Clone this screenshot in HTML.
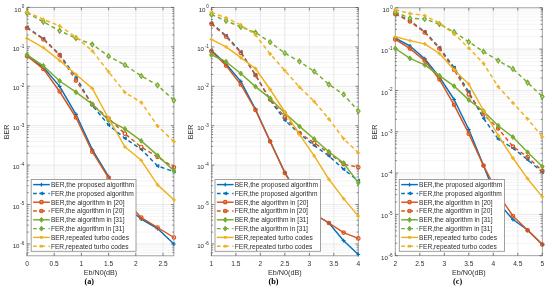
<!DOCTYPE html>
<html><head><meta charset="utf-8"><style>
html,body{margin:0;padding:0;background:#fff;}
svg{display:block;}
text{font-family:"Liberation Sans",Arial,sans-serif;fill:#2e2e2e;}
.tk{font-size:6.6px;}
.tky{font-size:6.1px;}
.sup{font-size:4.6px;}
.lb{font-size:7.2px;}
.lg{font-size:6.64px;}
.cap{font-family:"Liberation Serif","Times New Roman",serif;font-weight:bold;font-size:8.2px;fill:#000;}
</style></head><body>
<svg width="550" height="290" viewBox="0 0 550 290">
<rect width="550" height="290" fill="#fff"/>
<path d="M27.0 252.68H173.9M27.0 250.04H173.9M27.0 247.75H173.9M27.0 245.74H173.9M27.0 232.07H173.9M27.0 225.12H173.9M27.0 220.20H173.9M27.0 216.38H173.9M27.0 213.26H173.9M27.0 210.62H173.9M27.0 208.33H173.9M27.0 206.31H173.9M27.0 192.64H173.9M27.0 185.70H173.9M27.0 180.78H173.9M27.0 176.96H173.9M27.0 173.83H173.9M27.0 171.20H173.9M27.0 168.91H173.9M27.0 166.89H173.9M27.0 153.22H173.9M27.0 146.28H173.9M27.0 141.35H173.9M27.0 137.53H173.9M27.0 134.41H173.9M27.0 131.77H173.9M27.0 129.49H173.9M27.0 127.47H173.9M27.0 113.80H173.9M27.0 106.86H173.9M27.0 101.93H173.9M27.0 98.11H173.9M27.0 94.99H173.9M27.0 92.35H173.9M27.0 90.06H173.9M27.0 88.05H173.9M27.0 74.38H173.9M27.0 67.44H173.9M27.0 62.51H173.9M27.0 58.69H173.9M27.0 55.57H173.9M27.0 52.93H173.9M27.0 50.64H173.9M27.0 48.63H173.9M27.0 34.95H173.9M27.0 28.01H173.9M27.0 23.09H173.9M27.0 19.27H173.9M27.0 16.15H173.9M27.0 13.51H173.9M27.0 11.22H173.9M27.0 9.20H173.9" stroke="#f1f1f1" stroke-width="0.8" fill="none"/>
<path d="M27.0 243.93H173.9M27.0 204.51H173.9M27.0 165.09H173.9M27.0 125.67H173.9M27.0 86.24H173.9M27.0 46.82H173.9M54.20 7.4V255.8M81.41 7.4V255.8M108.61 7.4V255.8M135.81 7.4V255.8M163.02 7.4V255.8" stroke="#e3e3e3" stroke-width="0.8" fill="none"/>
<rect x="27.0" y="7.4" width="146.90" height="248.40" stroke="#979797" stroke-width="0.9" fill="none"/>
<path d="M27.00 255.8v-2.9M27.00 7.4v2.9M54.20 255.8v-2.9M54.20 7.4v2.9M81.41 255.8v-2.9M81.41 7.4v2.9M108.61 255.8v-2.9M108.61 7.4v2.9M135.81 255.8v-2.9M135.81 7.4v2.9M163.02 255.8v-2.9M163.02 7.4v2.9M27.0 243.93h2.9M173.9 243.93h-2.9M27.0 204.51h2.9M173.9 204.51h-2.9M27.0 165.09h2.9M173.9 165.09h-2.9M27.0 125.67h2.9M173.9 125.67h-2.9M27.0 86.24h2.9M173.9 86.24h-2.9M27.0 46.82h2.9M173.9 46.82h-2.9M27.0 7.40h2.9M173.9 7.40h-2.9M27.0 252.68h1.6M173.9 252.68h-1.6M27.0 250.04h1.6M173.9 250.04h-1.6M27.0 247.75h1.6M173.9 247.75h-1.6M27.0 245.74h1.6M173.9 245.74h-1.6M27.0 232.07h1.6M173.9 232.07h-1.6M27.0 225.12h1.6M173.9 225.12h-1.6M27.0 220.20h1.6M173.9 220.20h-1.6M27.0 216.38h1.6M173.9 216.38h-1.6M27.0 213.26h1.6M173.9 213.26h-1.6M27.0 210.62h1.6M173.9 210.62h-1.6M27.0 208.33h1.6M173.9 208.33h-1.6M27.0 206.31h1.6M173.9 206.31h-1.6M27.0 192.64h1.6M173.9 192.64h-1.6M27.0 185.70h1.6M173.9 185.70h-1.6M27.0 180.78h1.6M173.9 180.78h-1.6M27.0 176.96h1.6M173.9 176.96h-1.6M27.0 173.83h1.6M173.9 173.83h-1.6M27.0 171.20h1.6M173.9 171.20h-1.6M27.0 168.91h1.6M173.9 168.91h-1.6M27.0 166.89h1.6M173.9 166.89h-1.6M27.0 153.22h1.6M173.9 153.22h-1.6M27.0 146.28h1.6M173.9 146.28h-1.6M27.0 141.35h1.6M173.9 141.35h-1.6M27.0 137.53h1.6M173.9 137.53h-1.6M27.0 134.41h1.6M173.9 134.41h-1.6M27.0 131.77h1.6M173.9 131.77h-1.6M27.0 129.49h1.6M173.9 129.49h-1.6M27.0 127.47h1.6M173.9 127.47h-1.6M27.0 113.80h1.6M173.9 113.80h-1.6M27.0 106.86h1.6M173.9 106.86h-1.6M27.0 101.93h1.6M173.9 101.93h-1.6M27.0 98.11h1.6M173.9 98.11h-1.6M27.0 94.99h1.6M173.9 94.99h-1.6M27.0 92.35h1.6M173.9 92.35h-1.6M27.0 90.06h1.6M173.9 90.06h-1.6M27.0 88.05h1.6M173.9 88.05h-1.6M27.0 74.38h1.6M173.9 74.38h-1.6M27.0 67.44h1.6M173.9 67.44h-1.6M27.0 62.51h1.6M173.9 62.51h-1.6M27.0 58.69h1.6M173.9 58.69h-1.6M27.0 55.57h1.6M173.9 55.57h-1.6M27.0 52.93h1.6M173.9 52.93h-1.6M27.0 50.64h1.6M173.9 50.64h-1.6M27.0 48.63h1.6M173.9 48.63h-1.6M27.0 34.95h1.6M173.9 34.95h-1.6M27.0 28.01h1.6M173.9 28.01h-1.6M27.0 23.09h1.6M173.9 23.09h-1.6M27.0 19.27h1.6M173.9 19.27h-1.6M27.0 16.15h1.6M173.9 16.15h-1.6M27.0 13.51h1.6M173.9 13.51h-1.6M27.0 11.22h1.6M173.9 11.22h-1.6M27.0 9.20h1.6M173.9 9.20h-1.6" stroke="#555" stroke-width="0.7" fill="none"/>
<g>
<polyline points="27.00,54.90 43.32,67.30 59.64,86.40 75.97,114.30 92.29,149.60 108.61,176.60 124.93,206.00 141.26,219.00 157.58,228.50 173.90,244.00" stroke="#0072BD" stroke-width="1.45" fill="none" stroke-linejoin="round"/>
<path d="M25.10 54.90H28.90M27.00 53.00V56.80" stroke="#0072BD" stroke-width="1.2" fill="none"/>
<path d="M41.42 67.30H45.22M43.32 65.40V69.20" stroke="#0072BD" stroke-width="1.2" fill="none"/>
<path d="M57.74 86.40H61.54M59.64 84.50V88.30" stroke="#0072BD" stroke-width="1.2" fill="none"/>
<path d="M74.07 114.30H77.87M75.97 112.40V116.20" stroke="#0072BD" stroke-width="1.2" fill="none"/>
<path d="M90.39 149.60H94.19M92.29 147.70V151.50" stroke="#0072BD" stroke-width="1.2" fill="none"/>
<path d="M106.71 176.60H110.51M108.61 174.70V178.50" stroke="#0072BD" stroke-width="1.2" fill="none"/>
<path d="M123.03 206.00H126.83M124.93 204.10V207.90" stroke="#0072BD" stroke-width="1.2" fill="none"/>
<path d="M139.36 219.00H143.16M141.26 217.10V220.90" stroke="#0072BD" stroke-width="1.2" fill="none"/>
<path d="M155.68 228.50H159.48M157.58 226.60V230.40" stroke="#0072BD" stroke-width="1.2" fill="none"/>
<path d="M172.00 244.00H175.80M173.90 242.10V245.90" stroke="#0072BD" stroke-width="1.2" fill="none"/>
<polyline points="27.00,27.30 43.32,38.60 59.64,54.50 75.97,77.00 92.29,105.50 108.61,125.00 124.93,138.30 141.26,149.30 157.58,166.00 173.90,171.60" stroke="#0072BD" stroke-width="1.45" fill="none" stroke-linejoin="round" stroke-dasharray="4 3"/>
<path d="M25.50 27.30L28.35 25.80L28.35 28.80Z" stroke="#0072BD" stroke-width="0.9" fill="#0072BD"/>
<path d="M41.82 38.60L44.67 37.10L44.67 40.10Z" stroke="#0072BD" stroke-width="0.9" fill="#0072BD"/>
<path d="M58.14 54.50L60.99 53.00L60.99 56.00Z" stroke="#0072BD" stroke-width="0.9" fill="#0072BD"/>
<path d="M74.47 77.00L77.32 75.50L77.32 78.50Z" stroke="#0072BD" stroke-width="0.9" fill="#0072BD"/>
<path d="M90.79 105.50L93.64 104.00L93.64 107.00Z" stroke="#0072BD" stroke-width="0.9" fill="#0072BD"/>
<path d="M107.11 125.00L109.96 123.50L109.96 126.50Z" stroke="#0072BD" stroke-width="0.9" fill="#0072BD"/>
<path d="M123.43 138.30L126.28 136.80L126.28 139.80Z" stroke="#0072BD" stroke-width="0.9" fill="#0072BD"/>
<path d="M139.76 149.30L142.61 147.80L142.61 150.80Z" stroke="#0072BD" stroke-width="0.9" fill="#0072BD"/>
<path d="M156.08 166.00L158.93 164.50L158.93 167.50Z" stroke="#0072BD" stroke-width="0.9" fill="#0072BD"/>
<path d="M172.40 171.60L175.25 170.10L175.25 173.10Z" stroke="#0072BD" stroke-width="0.9" fill="#0072BD"/>
<polyline points="27.00,56.00 43.32,68.90 59.64,91.50 75.97,117.50 92.29,151.70 108.61,177.90 124.93,199.40 141.26,217.70 157.58,227.50 173.90,237.50" stroke="#D95319" stroke-width="1.45" fill="none" stroke-linejoin="round"/>
<circle cx="27.00" cy="56.00" r="1.75" stroke="#D95319" stroke-width="1.2" fill="none"/>
<circle cx="43.32" cy="68.90" r="1.75" stroke="#D95319" stroke-width="1.2" fill="none"/>
<circle cx="59.64" cy="91.50" r="1.75" stroke="#D95319" stroke-width="1.2" fill="none"/>
<circle cx="75.97" cy="117.50" r="1.75" stroke="#D95319" stroke-width="1.2" fill="none"/>
<circle cx="92.29" cy="151.70" r="1.75" stroke="#D95319" stroke-width="1.2" fill="none"/>
<circle cx="108.61" cy="177.90" r="1.75" stroke="#D95319" stroke-width="1.2" fill="none"/>
<circle cx="124.93" cy="199.40" r="1.75" stroke="#D95319" stroke-width="1.2" fill="none"/>
<circle cx="141.26" cy="217.70" r="1.75" stroke="#D95319" stroke-width="1.2" fill="none"/>
<circle cx="157.58" cy="227.50" r="1.75" stroke="#D95319" stroke-width="1.2" fill="none"/>
<circle cx="173.90" cy="237.50" r="1.75" stroke="#D95319" stroke-width="1.2" fill="none"/>
<polyline points="27.00,28.00 43.32,39.30 59.64,55.20 75.97,80.60 92.29,104.50 108.61,118.50 124.93,133.70 141.26,147.00 157.58,157.00 173.90,167.30" stroke="#D95319" stroke-width="1.45" fill="none" stroke-linejoin="round" stroke-dasharray="4 3"/>
<circle cx="27.00" cy="28.00" r="1.75" stroke="#D95319" stroke-width="1.2" fill="none"/>
<circle cx="43.32" cy="39.30" r="1.75" stroke="#D95319" stroke-width="1.2" fill="none"/>
<circle cx="59.64" cy="55.20" r="1.75" stroke="#D95319" stroke-width="1.2" fill="none"/>
<circle cx="75.97" cy="80.60" r="1.75" stroke="#D95319" stroke-width="1.2" fill="none"/>
<circle cx="92.29" cy="104.50" r="1.75" stroke="#D95319" stroke-width="1.2" fill="none"/>
<circle cx="108.61" cy="118.50" r="1.75" stroke="#D95319" stroke-width="1.2" fill="none"/>
<circle cx="124.93" cy="133.70" r="1.75" stroke="#D95319" stroke-width="1.2" fill="none"/>
<circle cx="141.26" cy="147.00" r="1.75" stroke="#D95319" stroke-width="1.2" fill="none"/>
<circle cx="157.58" cy="157.00" r="1.75" stroke="#D95319" stroke-width="1.2" fill="none"/>
<circle cx="173.90" cy="167.30" r="1.75" stroke="#D95319" stroke-width="1.2" fill="none"/>
<polyline points="27.00,54.90 43.32,65.80 59.64,81.00 75.97,92.20 92.29,104.20 108.61,120.30 124.93,128.90 141.26,140.90 157.58,155.40 173.90,170.80" stroke="#77AC30" stroke-width="1.45" fill="none" stroke-linejoin="round"/>
<path d="M27.00 52.45L28.84 54.90L27.00 57.35L25.16 54.90Z" stroke="#77AC30" stroke-width="1" fill="#77AC30"/>
<path d="M43.32 63.35L45.16 65.80L43.32 68.25L41.48 65.80Z" stroke="#77AC30" stroke-width="1" fill="#77AC30"/>
<path d="M59.64 78.55L61.48 81.00L59.64 83.45L57.81 81.00Z" stroke="#77AC30" stroke-width="1" fill="#77AC30"/>
<path d="M75.97 89.75L77.80 92.20L75.97 94.65L74.13 92.20Z" stroke="#77AC30" stroke-width="1" fill="#77AC30"/>
<path d="M92.29 101.75L94.13 104.20L92.29 106.65L90.45 104.20Z" stroke="#77AC30" stroke-width="1" fill="#77AC30"/>
<path d="M108.61 117.85L110.45 120.30L108.61 122.75L106.77 120.30Z" stroke="#77AC30" stroke-width="1" fill="#77AC30"/>
<path d="M124.93 126.45L126.77 128.90L124.93 131.35L123.10 128.90Z" stroke="#77AC30" stroke-width="1" fill="#77AC30"/>
<path d="M141.26 138.45L143.09 140.90L141.26 143.35L139.42 140.90Z" stroke="#77AC30" stroke-width="1" fill="#77AC30"/>
<path d="M157.58 152.95L159.42 155.40L157.58 157.85L155.74 155.40Z" stroke="#77AC30" stroke-width="1" fill="#77AC30"/>
<path d="M173.90 168.35L175.74 170.80L173.90 173.25L172.06 170.80Z" stroke="#77AC30" stroke-width="1" fill="#77AC30"/>
<polyline points="27.00,12.80 43.32,21.80 59.64,30.80 75.97,38.20 92.29,44.40 108.61,56.20 124.93,65.00 141.26,76.00 157.58,85.30 173.90,100.30" stroke="#77AC30" stroke-width="1.45" fill="none" stroke-linejoin="round" stroke-dasharray="4 3"/>
<path d="M27.00 10.45L28.76 12.80L27.00 15.15L25.24 12.80Z" stroke="#77AC30" stroke-width="1.2" fill="#b9d699"/>
<path d="M43.32 19.45L45.08 21.80L43.32 24.15L41.56 21.80Z" stroke="#77AC30" stroke-width="1.2" fill="#b9d699"/>
<path d="M59.64 28.45L61.41 30.80L59.64 33.15L57.88 30.80Z" stroke="#77AC30" stroke-width="1.2" fill="#b9d699"/>
<path d="M75.97 35.85L77.73 38.20L75.97 40.55L74.20 38.20Z" stroke="#77AC30" stroke-width="1.2" fill="#b9d699"/>
<path d="M92.29 42.05L94.05 44.40L92.29 46.75L90.53 44.40Z" stroke="#77AC30" stroke-width="1.2" fill="#b9d699"/>
<path d="M108.61 53.85L110.37 56.20L108.61 58.55L106.85 56.20Z" stroke="#77AC30" stroke-width="1.2" fill="#b9d699"/>
<path d="M124.93 62.65L126.70 65.00L124.93 67.35L123.17 65.00Z" stroke="#77AC30" stroke-width="1.2" fill="#b9d699"/>
<path d="M141.26 73.65L143.02 76.00L141.26 78.35L139.49 76.00Z" stroke="#77AC30" stroke-width="1.2" fill="#b9d699"/>
<path d="M157.58 82.95L159.34 85.30L157.58 87.65L155.82 85.30Z" stroke="#77AC30" stroke-width="1.2" fill="#b9d699"/>
<path d="M173.90 97.95L175.66 100.30L173.90 102.65L172.14 100.30Z" stroke="#77AC30" stroke-width="1.2" fill="#b9d699"/>
<polyline points="27.00,38.30 43.32,47.60 59.64,60.50 75.97,74.50 92.29,88.40 108.61,118.50 124.93,146.80 141.26,160.30 157.58,184.90 173.90,199.80" stroke="#EDB120" stroke-width="1.45" fill="none" stroke-linejoin="round"/>
<path d="M25.10 38.30H28.90M27.00 36.40V40.20" stroke="#EDB120" stroke-width="1.3" fill="none"/>
<path d="M41.42 47.60H45.22M43.32 45.70V49.50" stroke="#EDB120" stroke-width="1.3" fill="none"/>
<path d="M57.74 60.50H61.54M59.64 58.60V62.40" stroke="#EDB120" stroke-width="1.3" fill="none"/>
<path d="M74.07 74.50H77.87M75.97 72.60V76.40" stroke="#EDB120" stroke-width="1.3" fill="none"/>
<path d="M90.39 88.40H94.19M92.29 86.50V90.30" stroke="#EDB120" stroke-width="1.3" fill="none"/>
<path d="M106.71 118.50H110.51M108.61 116.60V120.40" stroke="#EDB120" stroke-width="1.3" fill="none"/>
<path d="M123.03 146.80H126.83M124.93 144.90V148.70" stroke="#EDB120" stroke-width="1.3" fill="none"/>
<path d="M139.36 160.30H143.16M141.26 158.40V162.20" stroke="#EDB120" stroke-width="1.3" fill="none"/>
<path d="M155.68 184.90H159.48M157.58 183.00V186.80" stroke="#EDB120" stroke-width="1.3" fill="none"/>
<path d="M172.00 199.80H175.80M173.90 197.90V201.70" stroke="#EDB120" stroke-width="1.3" fill="none"/>
<polyline points="27.00,12.00 43.32,19.30 59.64,26.00 75.97,37.20 92.29,50.80 108.61,71.90 124.93,92.40 141.26,102.50 157.58,126.00 173.90,141.60" stroke="#EDB120" stroke-width="1.45" fill="none" stroke-linejoin="round" stroke-dasharray="4 3"/>
<path d="M25.10 12.00H28.90M27.00 10.10V13.90" stroke="#EDB120" stroke-width="1.3" fill="none"/>
<path d="M41.42 19.30H45.22M43.32 17.40V21.20" stroke="#EDB120" stroke-width="1.3" fill="none"/>
<path d="M57.74 26.00H61.54M59.64 24.10V27.90" stroke="#EDB120" stroke-width="1.3" fill="none"/>
<path d="M74.07 37.20H77.87M75.97 35.30V39.10" stroke="#EDB120" stroke-width="1.3" fill="none"/>
<path d="M90.39 50.80H94.19M92.29 48.90V52.70" stroke="#EDB120" stroke-width="1.3" fill="none"/>
<path d="M106.71 71.90H110.51M108.61 70.00V73.80" stroke="#EDB120" stroke-width="1.3" fill="none"/>
<path d="M123.03 92.40H126.83M124.93 90.50V94.30" stroke="#EDB120" stroke-width="1.3" fill="none"/>
<path d="M139.36 102.50H143.16M141.26 100.60V104.40" stroke="#EDB120" stroke-width="1.3" fill="none"/>
<path d="M155.68 126.00H159.48M157.58 124.10V127.90" stroke="#EDB120" stroke-width="1.3" fill="none"/>
<path d="M172.00 141.60H175.80M173.90 139.70V143.50" stroke="#EDB120" stroke-width="1.3" fill="none"/>
</g>
<text x="27.00" y="265.8" text-anchor="middle" class="tk">0</text>
<text x="54.20" y="265.8" text-anchor="middle" class="tk">0.5</text>
<text x="81.41" y="265.8" text-anchor="middle" class="tk">1</text>
<text x="108.61" y="265.8" text-anchor="middle" class="tk">1.5</text>
<text x="135.81" y="265.8" text-anchor="middle" class="tk">2</text>
<text x="163.02" y="265.8" text-anchor="middle" class="tk">2.5</text>
<text x="24.40" y="248.03" text-anchor="end" class="tky">10<tspan dx="0.8" dy="-3.2" class="sup">-6</tspan></text>
<text x="24.40" y="208.61" text-anchor="end" class="tky">10<tspan dx="0.8" dy="-3.2" class="sup">-5</tspan></text>
<text x="24.40" y="169.19" text-anchor="end" class="tky">10<tspan dx="0.8" dy="-3.2" class="sup">-4</tspan></text>
<text x="24.40" y="129.77" text-anchor="end" class="tky">10<tspan dx="0.8" dy="-3.2" class="sup">-3</tspan></text>
<text x="24.40" y="90.34" text-anchor="end" class="tky">10<tspan dx="0.8" dy="-3.2" class="sup">-2</tspan></text>
<text x="24.40" y="50.92" text-anchor="end" class="tky">10<tspan dx="0.8" dy="-3.2" class="sup">-1</tspan></text>
<text x="24.40" y="11.50" text-anchor="end" class="tky">10<tspan dx="0.8" dy="-3.2" class="sup">0</tspan></text>
<text transform="translate(8.60 131.9) rotate(-90)" text-anchor="middle" class="lb">BER</text>
<text x="100.45" y="275.2" text-anchor="middle" class="lb">Eb/N0(dB)</text>
<text x="89.30" y="284.3" text-anchor="middle" class="cap">(a)</text>
<rect x="31.2" y="179.5" width="104.8" height="71.8" fill="#fff" stroke="#979797" stroke-width="0.9"/>
<path d="M33.10 184.60H49.80" stroke="#0072BD" stroke-width="1.45"/>
<path d="M39.55 184.60H43.35M41.45 182.70V186.50" stroke="#0072BD" stroke-width="1.2" fill="none"/>
<text x="50.90" y="187.00" class="lg">BER,the proposed algorithm</text>
<path d="M33.10 193.40h3.7M39.30 193.40H44.90M48.50 193.40H49.80" stroke="#0072BD" stroke-width="1.45"/>
<path d="M39.95 193.40L42.80 191.90L42.80 194.90Z" stroke="#0072BD" stroke-width="0.9" fill="#0072BD"/>
<text x="50.90" y="195.80" class="lg">FER,the proposed algorithm</text>
<path d="M33.10 202.20H49.80" stroke="#D95319" stroke-width="1.45"/>
<circle cx="41.45" cy="202.20" r="1.75" stroke="#D95319" stroke-width="1.2" fill="none"/>
<text x="50.90" y="204.60" class="lg">BER,the algorithm in [20]</text>
<path d="M33.10 211.00h3.7M39.30 211.00H44.90M48.50 211.00H49.80" stroke="#D95319" stroke-width="1.45"/>
<circle cx="41.45" cy="211.00" r="1.75" stroke="#D95319" stroke-width="1.2" fill="none"/>
<text x="50.90" y="213.40" class="lg">FER,the algorithm in [20]</text>
<path d="M33.10 219.80H49.80" stroke="#77AC30" stroke-width="1.45"/>
<path d="M41.45 217.35L43.29 219.80L41.45 222.25L39.61 219.80Z" stroke="#77AC30" stroke-width="1" fill="#77AC30"/>
<text x="50.90" y="222.20" class="lg">BER,the algorithm in [31]</text>
<path d="M33.10 228.60h3.7M39.30 228.60H44.90M48.50 228.60H49.80" stroke="#77AC30" stroke-width="1.45"/>
<path d="M41.45 226.15L43.29 228.60L41.45 231.05L39.61 228.60Z" stroke="#77AC30" stroke-width="1" fill="#77AC30"/>
<text x="50.90" y="231.00" class="lg">FER,the algorithm in [31]</text>
<path d="M33.10 237.40H49.80" stroke="#EDB120" stroke-width="1.45"/>
<rect x="40.00" y="236.10" width="2.9" height="2.6" fill="#EDB120"/>
<text x="50.90" y="239.80" class="lg">BER,repeated turbo codes</text>
<path d="M33.10 246.20h3.7M39.30 246.20H44.90M48.50 246.20H49.80" stroke="#EDB120" stroke-width="1.45"/>
<rect x="40.00" y="244.90" width="2.9" height="2.6" fill="#EDB120"/>
<text x="50.90" y="248.60" class="lg">FER,repeated turbo codes</text>
<path d="M211.4 252.68H358.3M211.4 250.04H358.3M211.4 247.76H358.3M211.4 245.74H358.3M211.4 232.08H358.3M211.4 225.14H358.3M211.4 220.21H358.3M211.4 216.39H358.3M211.4 213.27H358.3M211.4 210.64H358.3M211.4 208.35H358.3M211.4 206.33H358.3M211.4 192.67H358.3M211.4 185.73H358.3M211.4 180.81H358.3M211.4 176.99H358.3M211.4 173.87H358.3M211.4 171.23H358.3M211.4 168.94H358.3M211.4 166.93H358.3M211.4 153.26H358.3M211.4 146.32H358.3M211.4 141.40H358.3M211.4 137.58H358.3M211.4 134.46H358.3M211.4 131.82H358.3M211.4 129.54H358.3M211.4 127.52H358.3M211.4 113.86H358.3M211.4 106.92H358.3M211.4 101.99H358.3M211.4 98.17H358.3M211.4 95.05H358.3M211.4 92.42H358.3M211.4 90.13H358.3M211.4 88.12H358.3M211.4 74.45H358.3M211.4 67.51H358.3M211.4 62.59H358.3M211.4 58.77H358.3M211.4 55.65H358.3M211.4 53.01H358.3M211.4 50.73H358.3M211.4 48.71H358.3M211.4 35.04H358.3M211.4 28.10H358.3M211.4 23.18H358.3M211.4 19.36H358.3M211.4 16.24H358.3M211.4 13.60H358.3M211.4 11.32H358.3M211.4 9.30H358.3" stroke="#f1f1f1" stroke-width="0.8" fill="none"/>
<path d="M211.4 243.94H358.3M211.4 204.53H358.3M211.4 165.13H358.3M211.4 125.72H358.3M211.4 86.31H358.3M211.4 46.91H358.3M235.88 7.5V255.8M260.37 7.5V255.8M284.85 7.5V255.8M309.33 7.5V255.8M333.82 7.5V255.8" stroke="#e3e3e3" stroke-width="0.8" fill="none"/>
<rect x="211.4" y="7.5" width="146.90" height="248.30" stroke="#979797" stroke-width="0.9" fill="none"/>
<path d="M211.40 255.8v-2.9M211.40 7.5v2.9M235.88 255.8v-2.9M235.88 7.5v2.9M260.37 255.8v-2.9M260.37 7.5v2.9M284.85 255.8v-2.9M284.85 7.5v2.9M309.33 255.8v-2.9M309.33 7.5v2.9M333.82 255.8v-2.9M333.82 7.5v2.9M358.30 255.8v-2.9M358.30 7.5v2.9M211.4 243.94h2.9M358.3 243.94h-2.9M211.4 204.53h2.9M358.3 204.53h-2.9M211.4 165.13h2.9M358.3 165.13h-2.9M211.4 125.72h2.9M358.3 125.72h-2.9M211.4 86.31h2.9M358.3 86.31h-2.9M211.4 46.91h2.9M358.3 46.91h-2.9M211.4 7.50h2.9M358.3 7.50h-2.9M211.4 252.68h1.6M358.3 252.68h-1.6M211.4 250.04h1.6M358.3 250.04h-1.6M211.4 247.76h1.6M358.3 247.76h-1.6M211.4 245.74h1.6M358.3 245.74h-1.6M211.4 232.08h1.6M358.3 232.08h-1.6M211.4 225.14h1.6M358.3 225.14h-1.6M211.4 220.21h1.6M358.3 220.21h-1.6M211.4 216.39h1.6M358.3 216.39h-1.6M211.4 213.27h1.6M358.3 213.27h-1.6M211.4 210.64h1.6M358.3 210.64h-1.6M211.4 208.35h1.6M358.3 208.35h-1.6M211.4 206.33h1.6M358.3 206.33h-1.6M211.4 192.67h1.6M358.3 192.67h-1.6M211.4 185.73h1.6M358.3 185.73h-1.6M211.4 180.81h1.6M358.3 180.81h-1.6M211.4 176.99h1.6M358.3 176.99h-1.6M211.4 173.87h1.6M358.3 173.87h-1.6M211.4 171.23h1.6M358.3 171.23h-1.6M211.4 168.94h1.6M358.3 168.94h-1.6M211.4 166.93h1.6M358.3 166.93h-1.6M211.4 153.26h1.6M358.3 153.26h-1.6M211.4 146.32h1.6M358.3 146.32h-1.6M211.4 141.40h1.6M358.3 141.40h-1.6M211.4 137.58h1.6M358.3 137.58h-1.6M211.4 134.46h1.6M358.3 134.46h-1.6M211.4 131.82h1.6M358.3 131.82h-1.6M211.4 129.54h1.6M358.3 129.54h-1.6M211.4 127.52h1.6M358.3 127.52h-1.6M211.4 113.86h1.6M358.3 113.86h-1.6M211.4 106.92h1.6M358.3 106.92h-1.6M211.4 101.99h1.6M358.3 101.99h-1.6M211.4 98.17h1.6M358.3 98.17h-1.6M211.4 95.05h1.6M358.3 95.05h-1.6M211.4 92.42h1.6M358.3 92.42h-1.6M211.4 90.13h1.6M358.3 90.13h-1.6M211.4 88.12h1.6M358.3 88.12h-1.6M211.4 74.45h1.6M358.3 74.45h-1.6M211.4 67.51h1.6M358.3 67.51h-1.6M211.4 62.59h1.6M358.3 62.59h-1.6M211.4 58.77h1.6M358.3 58.77h-1.6M211.4 55.65h1.6M358.3 55.65h-1.6M211.4 53.01h1.6M358.3 53.01h-1.6M211.4 50.73h1.6M358.3 50.73h-1.6M211.4 48.71h1.6M358.3 48.71h-1.6M211.4 35.04h1.6M358.3 35.04h-1.6M211.4 28.10h1.6M358.3 28.10h-1.6M211.4 23.18h1.6M358.3 23.18h-1.6M211.4 19.36h1.6M358.3 19.36h-1.6M211.4 16.24h1.6M358.3 16.24h-1.6M211.4 13.60h1.6M358.3 13.60h-1.6M211.4 11.32h1.6M358.3 11.32h-1.6M211.4 9.30h1.6M358.3 9.30h-1.6" stroke="#555" stroke-width="0.7" fill="none"/>
<g>
<polyline points="211.40,50.60 226.09,64.00 240.78,81.40 255.47,109.20 270.16,141.20 284.85,172.50 299.54,197.00 314.23,214.00 328.92,223.00 343.61,240.70 358.30,254.50" stroke="#0072BD" stroke-width="1.45" fill="none" stroke-linejoin="round"/>
<path d="M209.50 50.60H213.30M211.40 48.70V52.50" stroke="#0072BD" stroke-width="1.2" fill="none"/>
<path d="M224.19 64.00H227.99M226.09 62.10V65.90" stroke="#0072BD" stroke-width="1.2" fill="none"/>
<path d="M238.88 81.40H242.68M240.78 79.50V83.30" stroke="#0072BD" stroke-width="1.2" fill="none"/>
<path d="M253.57 109.20H257.37M255.47 107.30V111.10" stroke="#0072BD" stroke-width="1.2" fill="none"/>
<path d="M268.26 141.20H272.06M270.16 139.30V143.10" stroke="#0072BD" stroke-width="1.2" fill="none"/>
<path d="M282.95 172.50H286.75M284.85 170.60V174.40" stroke="#0072BD" stroke-width="1.2" fill="none"/>
<path d="M297.64 197.00H301.44M299.54 195.10V198.90" stroke="#0072BD" stroke-width="1.2" fill="none"/>
<path d="M312.33 214.00H316.13M314.23 212.10V215.90" stroke="#0072BD" stroke-width="1.2" fill="none"/>
<path d="M327.02 223.00H330.82M328.92 221.10V224.90" stroke="#0072BD" stroke-width="1.2" fill="none"/>
<path d="M341.71 240.70H345.51M343.61 238.80V242.60" stroke="#0072BD" stroke-width="1.2" fill="none"/>
<path d="M356.40 254.50H360.20M358.30 252.60V256.40" stroke="#0072BD" stroke-width="1.2" fill="none"/>
<polyline points="211.40,23.10 226.09,35.70 240.78,51.80 255.47,75.00 270.16,100.00 284.85,120.20 299.54,133.70 314.23,145.50 328.92,155.90 343.61,169.30 358.30,180.70" stroke="#0072BD" stroke-width="1.45" fill="none" stroke-linejoin="round" stroke-dasharray="4 3"/>
<path d="M209.90 23.10L212.75 21.60L212.75 24.60Z" stroke="#0072BD" stroke-width="0.9" fill="#0072BD"/>
<path d="M224.59 35.70L227.44 34.20L227.44 37.20Z" stroke="#0072BD" stroke-width="0.9" fill="#0072BD"/>
<path d="M239.28 51.80L242.13 50.30L242.13 53.30Z" stroke="#0072BD" stroke-width="0.9" fill="#0072BD"/>
<path d="M253.97 75.00L256.82 73.50L256.82 76.50Z" stroke="#0072BD" stroke-width="0.9" fill="#0072BD"/>
<path d="M268.66 100.00L271.51 98.50L271.51 101.50Z" stroke="#0072BD" stroke-width="0.9" fill="#0072BD"/>
<path d="M283.35 120.20L286.20 118.70L286.20 121.70Z" stroke="#0072BD" stroke-width="0.9" fill="#0072BD"/>
<path d="M298.04 133.70L300.89 132.20L300.89 135.20Z" stroke="#0072BD" stroke-width="0.9" fill="#0072BD"/>
<path d="M312.73 145.50L315.58 144.00L315.58 147.00Z" stroke="#0072BD" stroke-width="0.9" fill="#0072BD"/>
<path d="M327.42 155.90L330.27 154.40L330.27 157.40Z" stroke="#0072BD" stroke-width="0.9" fill="#0072BD"/>
<path d="M342.11 169.30L344.96 167.80L344.96 170.80Z" stroke="#0072BD" stroke-width="0.9" fill="#0072BD"/>
<path d="M356.80 180.70L359.65 179.20L359.65 182.20Z" stroke="#0072BD" stroke-width="0.9" fill="#0072BD"/>
<polyline points="211.40,51.20 226.09,65.60 240.78,84.50 255.47,110.00 270.16,141.50 284.85,173.00 299.54,197.50 314.23,214.00 328.92,223.00 343.61,232.60 358.30,238.40" stroke="#D95319" stroke-width="1.45" fill="none" stroke-linejoin="round"/>
<circle cx="211.40" cy="51.20" r="1.75" stroke="#D95319" stroke-width="1.2" fill="none"/>
<circle cx="226.09" cy="65.60" r="1.75" stroke="#D95319" stroke-width="1.2" fill="none"/>
<circle cx="240.78" cy="84.50" r="1.75" stroke="#D95319" stroke-width="1.2" fill="none"/>
<circle cx="255.47" cy="110.00" r="1.75" stroke="#D95319" stroke-width="1.2" fill="none"/>
<circle cx="270.16" cy="141.50" r="1.75" stroke="#D95319" stroke-width="1.2" fill="none"/>
<circle cx="284.85" cy="173.00" r="1.75" stroke="#D95319" stroke-width="1.2" fill="none"/>
<circle cx="299.54" cy="197.50" r="1.75" stroke="#D95319" stroke-width="1.2" fill="none"/>
<circle cx="314.23" cy="214.00" r="1.75" stroke="#D95319" stroke-width="1.2" fill="none"/>
<circle cx="328.92" cy="223.00" r="1.75" stroke="#D95319" stroke-width="1.2" fill="none"/>
<circle cx="343.61" cy="232.60" r="1.75" stroke="#D95319" stroke-width="1.2" fill="none"/>
<circle cx="358.30" cy="238.40" r="1.75" stroke="#D95319" stroke-width="1.2" fill="none"/>
<polyline points="211.40,23.80 226.09,36.60 240.78,52.80 255.47,75.20 270.16,99.50 284.85,117.10 299.54,133.00 314.23,142.80 328.92,153.20 343.61,164.20 358.30,167.30" stroke="#D95319" stroke-width="1.45" fill="none" stroke-linejoin="round" stroke-dasharray="4 3"/>
<circle cx="211.40" cy="23.80" r="1.75" stroke="#D95319" stroke-width="1.2" fill="none"/>
<circle cx="226.09" cy="36.60" r="1.75" stroke="#D95319" stroke-width="1.2" fill="none"/>
<circle cx="240.78" cy="52.80" r="1.75" stroke="#D95319" stroke-width="1.2" fill="none"/>
<circle cx="255.47" cy="75.20" r="1.75" stroke="#D95319" stroke-width="1.2" fill="none"/>
<circle cx="270.16" cy="99.50" r="1.75" stroke="#D95319" stroke-width="1.2" fill="none"/>
<circle cx="284.85" cy="117.10" r="1.75" stroke="#D95319" stroke-width="1.2" fill="none"/>
<circle cx="299.54" cy="133.00" r="1.75" stroke="#D95319" stroke-width="1.2" fill="none"/>
<circle cx="314.23" cy="142.80" r="1.75" stroke="#D95319" stroke-width="1.2" fill="none"/>
<circle cx="328.92" cy="153.20" r="1.75" stroke="#D95319" stroke-width="1.2" fill="none"/>
<circle cx="343.61" cy="164.20" r="1.75" stroke="#D95319" stroke-width="1.2" fill="none"/>
<circle cx="358.30" cy="167.30" r="1.75" stroke="#D95319" stroke-width="1.2" fill="none"/>
<polyline points="211.40,54.90 226.09,61.70 240.78,73.50 255.47,86.60 270.16,98.40 284.85,113.00 299.54,126.40 314.23,139.00 328.92,151.70 343.61,163.10 358.30,182.80" stroke="#77AC30" stroke-width="1.45" fill="none" stroke-linejoin="round"/>
<path d="M211.40 52.45L213.24 54.90L211.40 57.35L209.56 54.90Z" stroke="#77AC30" stroke-width="1" fill="#77AC30"/>
<path d="M226.09 59.25L227.93 61.70L226.09 64.15L224.25 61.70Z" stroke="#77AC30" stroke-width="1" fill="#77AC30"/>
<path d="M240.78 71.05L242.62 73.50L240.78 75.95L238.94 73.50Z" stroke="#77AC30" stroke-width="1" fill="#77AC30"/>
<path d="M255.47 84.15L257.31 86.60L255.47 89.05L253.63 86.60Z" stroke="#77AC30" stroke-width="1" fill="#77AC30"/>
<path d="M270.16 95.95L272.00 98.40L270.16 100.85L268.32 98.40Z" stroke="#77AC30" stroke-width="1" fill="#77AC30"/>
<path d="M284.85 110.55L286.69 113.00L284.85 115.45L283.01 113.00Z" stroke="#77AC30" stroke-width="1" fill="#77AC30"/>
<path d="M299.54 123.95L301.38 126.40L299.54 128.85L297.70 126.40Z" stroke="#77AC30" stroke-width="1" fill="#77AC30"/>
<path d="M314.23 136.55L316.07 139.00L314.23 141.45L312.39 139.00Z" stroke="#77AC30" stroke-width="1" fill="#77AC30"/>
<path d="M328.92 149.25L330.76 151.70L328.92 154.15L327.08 151.70Z" stroke="#77AC30" stroke-width="1" fill="#77AC30"/>
<path d="M343.61 160.65L345.45 163.10L343.61 165.55L341.77 163.10Z" stroke="#77AC30" stroke-width="1" fill="#77AC30"/>
<path d="M358.30 180.35L360.14 182.80L358.30 185.25L356.46 182.80Z" stroke="#77AC30" stroke-width="1" fill="#77AC30"/>
<polyline points="211.40,14.50 226.09,20.80 240.78,26.90 255.47,32.50 270.16,42.20 284.85,53.20 299.54,61.40 314.23,71.50 328.92,84.50 343.61,94.50 358.30,111.10" stroke="#77AC30" stroke-width="1.45" fill="none" stroke-linejoin="round" stroke-dasharray="4 3"/>
<path d="M211.40 12.15L213.16 14.50L211.40 16.85L209.64 14.50Z" stroke="#77AC30" stroke-width="1.2" fill="#b9d699"/>
<path d="M226.09 18.45L227.85 20.80L226.09 23.15L224.33 20.80Z" stroke="#77AC30" stroke-width="1.2" fill="#b9d699"/>
<path d="M240.78 24.55L242.54 26.90L240.78 29.25L239.02 26.90Z" stroke="#77AC30" stroke-width="1.2" fill="#b9d699"/>
<path d="M255.47 30.15L257.23 32.50L255.47 34.85L253.71 32.50Z" stroke="#77AC30" stroke-width="1.2" fill="#b9d699"/>
<path d="M270.16 39.85L271.92 42.20L270.16 44.55L268.40 42.20Z" stroke="#77AC30" stroke-width="1.2" fill="#b9d699"/>
<path d="M284.85 50.85L286.61 53.20L284.85 55.55L283.09 53.20Z" stroke="#77AC30" stroke-width="1.2" fill="#b9d699"/>
<path d="M299.54 59.05L301.30 61.40L299.54 63.75L297.78 61.40Z" stroke="#77AC30" stroke-width="1.2" fill="#b9d699"/>
<path d="M314.23 69.15L315.99 71.50L314.23 73.85L312.47 71.50Z" stroke="#77AC30" stroke-width="1.2" fill="#b9d699"/>
<path d="M328.92 82.15L330.68 84.50L328.92 86.85L327.16 84.50Z" stroke="#77AC30" stroke-width="1.2" fill="#b9d699"/>
<path d="M343.61 92.15L345.37 94.50L343.61 96.85L341.85 94.50Z" stroke="#77AC30" stroke-width="1.2" fill="#b9d699"/>
<path d="M358.30 108.75L360.06 111.10L358.30 113.45L356.54 111.10Z" stroke="#77AC30" stroke-width="1.2" fill="#b9d699"/>
<polyline points="211.40,39.40 226.09,46.80 240.78,57.60 255.47,68.50 270.16,89.50 284.85,112.00 299.54,134.70 314.23,155.80 328.92,179.30 343.61,198.60 358.30,216.10" stroke="#EDB120" stroke-width="1.45" fill="none" stroke-linejoin="round"/>
<path d="M209.50 39.40H213.30M211.40 37.50V41.30" stroke="#EDB120" stroke-width="1.3" fill="none"/>
<path d="M224.19 46.80H227.99M226.09 44.90V48.70" stroke="#EDB120" stroke-width="1.3" fill="none"/>
<path d="M238.88 57.60H242.68M240.78 55.70V59.50" stroke="#EDB120" stroke-width="1.3" fill="none"/>
<path d="M253.57 68.50H257.37M255.47 66.60V70.40" stroke="#EDB120" stroke-width="1.3" fill="none"/>
<path d="M268.26 89.50H272.06M270.16 87.60V91.40" stroke="#EDB120" stroke-width="1.3" fill="none"/>
<path d="M282.95 112.00H286.75M284.85 110.10V113.90" stroke="#EDB120" stroke-width="1.3" fill="none"/>
<path d="M297.64 134.70H301.44M299.54 132.80V136.60" stroke="#EDB120" stroke-width="1.3" fill="none"/>
<path d="M312.33 155.80H316.13M314.23 153.90V157.70" stroke="#EDB120" stroke-width="1.3" fill="none"/>
<path d="M327.02 179.30H330.82M328.92 177.40V181.20" stroke="#EDB120" stroke-width="1.3" fill="none"/>
<path d="M341.71 198.60H345.51M343.61 196.70V200.50" stroke="#EDB120" stroke-width="1.3" fill="none"/>
<path d="M356.40 216.10H360.20M358.30 214.20V218.00" stroke="#EDB120" stroke-width="1.3" fill="none"/>
<polyline points="211.40,12.20 226.09,18.00 240.78,24.80 255.47,34.80 270.16,54.00 284.85,70.60 299.54,87.10 314.23,101.50 328.92,119.00 343.61,138.70 358.30,152.80" stroke="#EDB120" stroke-width="1.45" fill="none" stroke-linejoin="round" stroke-dasharray="4 3"/>
<path d="M209.50 12.20H213.30M211.40 10.30V14.10" stroke="#EDB120" stroke-width="1.3" fill="none"/>
<path d="M224.19 18.00H227.99M226.09 16.10V19.90" stroke="#EDB120" stroke-width="1.3" fill="none"/>
<path d="M238.88 24.80H242.68M240.78 22.90V26.70" stroke="#EDB120" stroke-width="1.3" fill="none"/>
<path d="M253.57 34.80H257.37M255.47 32.90V36.70" stroke="#EDB120" stroke-width="1.3" fill="none"/>
<path d="M268.26 54.00H272.06M270.16 52.10V55.90" stroke="#EDB120" stroke-width="1.3" fill="none"/>
<path d="M282.95 70.60H286.75M284.85 68.70V72.50" stroke="#EDB120" stroke-width="1.3" fill="none"/>
<path d="M297.64 87.10H301.44M299.54 85.20V89.00" stroke="#EDB120" stroke-width="1.3" fill="none"/>
<path d="M312.33 101.50H316.13M314.23 99.60V103.40" stroke="#EDB120" stroke-width="1.3" fill="none"/>
<path d="M327.02 119.00H330.82M328.92 117.10V120.90" stroke="#EDB120" stroke-width="1.3" fill="none"/>
<path d="M341.71 138.70H345.51M343.61 136.80V140.60" stroke="#EDB120" stroke-width="1.3" fill="none"/>
<path d="M356.40 152.80H360.20M358.30 150.90V154.70" stroke="#EDB120" stroke-width="1.3" fill="none"/>
</g>
<text x="211.40" y="265.8" text-anchor="middle" class="tk">1</text>
<text x="235.88" y="265.8" text-anchor="middle" class="tk">1.5</text>
<text x="260.37" y="265.8" text-anchor="middle" class="tk">2</text>
<text x="284.85" y="265.8" text-anchor="middle" class="tk">2.5</text>
<text x="309.33" y="265.8" text-anchor="middle" class="tk">3</text>
<text x="333.82" y="265.8" text-anchor="middle" class="tk">3.5</text>
<text x="358.30" y="265.8" text-anchor="middle" class="tk">4</text>
<text x="208.80" y="248.04" text-anchor="end" class="tky">10<tspan dx="0.8" dy="-3.2" class="sup">-6</tspan></text>
<text x="208.80" y="208.63" text-anchor="end" class="tky">10<tspan dx="0.8" dy="-3.2" class="sup">-5</tspan></text>
<text x="208.80" y="169.23" text-anchor="end" class="tky">10<tspan dx="0.8" dy="-3.2" class="sup">-4</tspan></text>
<text x="208.80" y="129.82" text-anchor="end" class="tky">10<tspan dx="0.8" dy="-3.2" class="sup">-3</tspan></text>
<text x="208.80" y="90.41" text-anchor="end" class="tky">10<tspan dx="0.8" dy="-3.2" class="sup">-2</tspan></text>
<text x="208.80" y="51.01" text-anchor="end" class="tky">10<tspan dx="0.8" dy="-3.2" class="sup">-1</tspan></text>
<text x="208.80" y="11.60" text-anchor="end" class="tky">10<tspan dx="0.8" dy="-3.2" class="sup">0</tspan></text>
<text transform="translate(193.00 131.9) rotate(-90)" text-anchor="middle" class="lb">BER</text>
<text x="284.85" y="275.2" text-anchor="middle" class="lb">Eb/N0(dB)</text>
<text x="273.50" y="284.3" text-anchor="middle" class="cap">(b)</text>
<rect x="215.0" y="179.5" width="105.5" height="71.8" fill="#fff" stroke="#979797" stroke-width="0.9"/>
<path d="M216.90 184.60H233.60" stroke="#0072BD" stroke-width="1.45"/>
<path d="M223.35 184.60H227.15M225.25 182.70V186.50" stroke="#0072BD" stroke-width="1.2" fill="none"/>
<text x="234.70" y="187.00" class="lg">BER,the proposed algorithm</text>
<path d="M216.90 193.40h3.7M223.10 193.40H228.70M232.30 193.40H233.60" stroke="#0072BD" stroke-width="1.45"/>
<path d="M223.75 193.40L226.60 191.90L226.60 194.90Z" stroke="#0072BD" stroke-width="0.9" fill="#0072BD"/>
<text x="234.70" y="195.80" class="lg">FER,the proposed algorithm</text>
<path d="M216.90 202.20H233.60" stroke="#D95319" stroke-width="1.45"/>
<circle cx="225.25" cy="202.20" r="1.75" stroke="#D95319" stroke-width="1.2" fill="none"/>
<text x="234.70" y="204.60" class="lg">BER,the algorithm in [20]</text>
<path d="M216.90 211.00h3.7M223.10 211.00H228.70M232.30 211.00H233.60" stroke="#D95319" stroke-width="1.45"/>
<circle cx="225.25" cy="211.00" r="1.75" stroke="#D95319" stroke-width="1.2" fill="none"/>
<text x="234.70" y="213.40" class="lg">FER,the algorithm in [20]</text>
<path d="M216.90 219.80H233.60" stroke="#77AC30" stroke-width="1.45"/>
<path d="M225.25 217.35L227.09 219.80L225.25 222.25L223.41 219.80Z" stroke="#77AC30" stroke-width="1" fill="#77AC30"/>
<text x="234.70" y="222.20" class="lg">BER,the algorithm in [31]</text>
<path d="M216.90 228.60h3.7M223.10 228.60H228.70M232.30 228.60H233.60" stroke="#77AC30" stroke-width="1.45"/>
<path d="M225.25 226.15L227.09 228.60L225.25 231.05L223.41 228.60Z" stroke="#77AC30" stroke-width="1" fill="#77AC30"/>
<text x="234.70" y="231.00" class="lg">FER,the algorithm in [31]</text>
<path d="M216.90 237.40H233.60" stroke="#EDB120" stroke-width="1.45"/>
<rect x="223.80" y="236.10" width="2.9" height="2.6" fill="#EDB120"/>
<text x="234.70" y="239.80" class="lg">BER,repeated turbo codes</text>
<path d="M216.90 246.20h3.7M223.10 246.20H228.70M232.30 246.20H233.60" stroke="#EDB120" stroke-width="1.45"/>
<rect x="223.80" y="244.90" width="2.9" height="2.6" fill="#EDB120"/>
<text x="234.70" y="248.60" class="lg">FER,repeated turbo codes</text>
<path d="M395.3 243.26H542.3M395.3 235.99H542.3M395.3 230.82H542.3M395.3 226.82H542.3M395.3 223.55H542.3M395.3 220.78H542.3M395.3 218.39H542.3M395.3 216.27H542.3M395.3 201.95H542.3M395.3 194.67H542.3M395.3 189.51H542.3M395.3 185.50H542.3M395.3 182.23H542.3M395.3 179.47H542.3M395.3 177.07H542.3M395.3 174.96H542.3M395.3 160.63H542.3M395.3 153.35H542.3M395.3 148.19H542.3M395.3 144.19H542.3M395.3 140.92H542.3M395.3 138.15H542.3M395.3 135.75H542.3M395.3 133.64H542.3M395.3 119.31H542.3M395.3 112.04H542.3M395.3 106.87H542.3M395.3 102.87H542.3M395.3 99.60H542.3M395.3 96.83H542.3M395.3 94.44H542.3M395.3 92.32H542.3M395.3 78.00H542.3M395.3 70.72H542.3M395.3 65.56H542.3M395.3 61.55H542.3M395.3 58.28H542.3M395.3 55.52H542.3M395.3 53.12H542.3M395.3 51.01H542.3M395.3 36.68H542.3M395.3 29.40H542.3M395.3 24.24H542.3M395.3 20.24H542.3M395.3 16.97H542.3M395.3 14.20H542.3M395.3 11.80H542.3M395.3 9.69H542.3" stroke="#f1f1f1" stroke-width="0.8" fill="none"/>
<path d="M395.3 214.38H542.3M395.3 173.07H542.3M395.3 131.75H542.3M395.3 90.43H542.3M395.3 49.12H542.3M419.80 7.8V255.7M444.30 7.8V255.7M468.80 7.8V255.7M493.30 7.8V255.7M517.80 7.8V255.7" stroke="#e3e3e3" stroke-width="0.8" fill="none"/>
<rect x="395.3" y="7.8" width="147.00" height="247.90" stroke="#979797" stroke-width="0.9" fill="none"/>
<path d="M395.30 255.7v-2.9M395.30 7.8v2.9M419.80 255.7v-2.9M419.80 7.8v2.9M444.30 255.7v-2.9M444.30 7.8v2.9M468.80 255.7v-2.9M468.80 7.8v2.9M493.30 255.7v-2.9M493.30 7.8v2.9M517.80 255.7v-2.9M517.80 7.8v2.9M542.30 255.7v-2.9M542.30 7.8v2.9M395.3 255.70h2.9M542.3 255.70h-2.9M395.3 214.38h2.9M542.3 214.38h-2.9M395.3 173.07h2.9M542.3 173.07h-2.9M395.3 131.75h2.9M542.3 131.75h-2.9M395.3 90.43h2.9M542.3 90.43h-2.9M395.3 49.12h2.9M542.3 49.12h-2.9M395.3 7.80h2.9M542.3 7.80h-2.9M395.3 243.26h1.6M542.3 243.26h-1.6M395.3 235.99h1.6M542.3 235.99h-1.6M395.3 230.82h1.6M542.3 230.82h-1.6M395.3 226.82h1.6M542.3 226.82h-1.6M395.3 223.55h1.6M542.3 223.55h-1.6M395.3 220.78h1.6M542.3 220.78h-1.6M395.3 218.39h1.6M542.3 218.39h-1.6M395.3 216.27h1.6M542.3 216.27h-1.6M395.3 201.95h1.6M542.3 201.95h-1.6M395.3 194.67h1.6M542.3 194.67h-1.6M395.3 189.51h1.6M542.3 189.51h-1.6M395.3 185.50h1.6M542.3 185.50h-1.6M395.3 182.23h1.6M542.3 182.23h-1.6M395.3 179.47h1.6M542.3 179.47h-1.6M395.3 177.07h1.6M542.3 177.07h-1.6M395.3 174.96h1.6M542.3 174.96h-1.6M395.3 160.63h1.6M542.3 160.63h-1.6M395.3 153.35h1.6M542.3 153.35h-1.6M395.3 148.19h1.6M542.3 148.19h-1.6M395.3 144.19h1.6M542.3 144.19h-1.6M395.3 140.92h1.6M542.3 140.92h-1.6M395.3 138.15h1.6M542.3 138.15h-1.6M395.3 135.75h1.6M542.3 135.75h-1.6M395.3 133.64h1.6M542.3 133.64h-1.6M395.3 119.31h1.6M542.3 119.31h-1.6M395.3 112.04h1.6M542.3 112.04h-1.6M395.3 106.87h1.6M542.3 106.87h-1.6M395.3 102.87h1.6M542.3 102.87h-1.6M395.3 99.60h1.6M542.3 99.60h-1.6M395.3 96.83h1.6M542.3 96.83h-1.6M395.3 94.44h1.6M542.3 94.44h-1.6M395.3 92.32h1.6M542.3 92.32h-1.6M395.3 78.00h1.6M542.3 78.00h-1.6M395.3 70.72h1.6M542.3 70.72h-1.6M395.3 65.56h1.6M542.3 65.56h-1.6M395.3 61.55h1.6M542.3 61.55h-1.6M395.3 58.28h1.6M542.3 58.28h-1.6M395.3 55.52h1.6M542.3 55.52h-1.6M395.3 53.12h1.6M542.3 53.12h-1.6M395.3 51.01h1.6M542.3 51.01h-1.6M395.3 36.68h1.6M542.3 36.68h-1.6M395.3 29.40h1.6M542.3 29.40h-1.6M395.3 24.24h1.6M542.3 24.24h-1.6M395.3 20.24h1.6M542.3 20.24h-1.6M395.3 16.97h1.6M542.3 16.97h-1.6M395.3 14.20h1.6M542.3 14.20h-1.6M395.3 11.80h1.6M542.3 11.80h-1.6M395.3 9.69h1.6M542.3 9.69h-1.6" stroke="#555" stroke-width="0.7" fill="none"/>
<g>
<polyline points="395.30,38.10 410.00,46.00 424.70,58.70 439.40,76.90 454.10,99.50 468.80,129.50 483.50,165.60 498.20,202.60 512.90,219.50 527.60,230.00 542.30,244.50" stroke="#0072BD" stroke-width="1.45" fill="none" stroke-linejoin="round"/>
<path d="M393.40 38.10H397.20M395.30 36.20V40.00" stroke="#0072BD" stroke-width="1.2" fill="none"/>
<path d="M408.10 46.00H411.90M410.00 44.10V47.90" stroke="#0072BD" stroke-width="1.2" fill="none"/>
<path d="M422.80 58.70H426.60M424.70 56.80V60.60" stroke="#0072BD" stroke-width="1.2" fill="none"/>
<path d="M437.50 76.90H441.30M439.40 75.00V78.80" stroke="#0072BD" stroke-width="1.2" fill="none"/>
<path d="M452.20 99.50H456.00M454.10 97.60V101.40" stroke="#0072BD" stroke-width="1.2" fill="none"/>
<path d="M466.90 129.50H470.70M468.80 127.60V131.40" stroke="#0072BD" stroke-width="1.2" fill="none"/>
<path d="M481.60 165.60H485.40M483.50 163.70V167.50" stroke="#0072BD" stroke-width="1.2" fill="none"/>
<path d="M496.30 202.60H500.10M498.20 200.70V204.50" stroke="#0072BD" stroke-width="1.2" fill="none"/>
<path d="M511.00 219.50H514.80M512.90 217.60V221.40" stroke="#0072BD" stroke-width="1.2" fill="none"/>
<path d="M525.70 230.00H529.50M527.60 228.10V231.90" stroke="#0072BD" stroke-width="1.2" fill="none"/>
<path d="M540.40 244.50H544.20M542.30 242.60V246.40" stroke="#0072BD" stroke-width="1.2" fill="none"/>
<polyline points="395.30,13.60 410.00,20.80 424.70,31.70 439.40,47.50 454.10,67.60 468.80,92.00 483.50,118.30 498.20,139.00 512.90,148.10 527.60,159.80 542.30,172.20" stroke="#0072BD" stroke-width="1.45" fill="none" stroke-linejoin="round" stroke-dasharray="4 3"/>
<path d="M393.80 13.60L396.65 12.10L396.65 15.10Z" stroke="#0072BD" stroke-width="0.9" fill="#0072BD"/>
<path d="M408.50 20.80L411.35 19.30L411.35 22.30Z" stroke="#0072BD" stroke-width="0.9" fill="#0072BD"/>
<path d="M423.20 31.70L426.05 30.20L426.05 33.20Z" stroke="#0072BD" stroke-width="0.9" fill="#0072BD"/>
<path d="M437.90 47.50L440.75 46.00L440.75 49.00Z" stroke="#0072BD" stroke-width="0.9" fill="#0072BD"/>
<path d="M452.60 67.60L455.45 66.10L455.45 69.10Z" stroke="#0072BD" stroke-width="0.9" fill="#0072BD"/>
<path d="M467.30 92.00L470.15 90.50L470.15 93.50Z" stroke="#0072BD" stroke-width="0.9" fill="#0072BD"/>
<path d="M482.00 118.30L484.85 116.80L484.85 119.80Z" stroke="#0072BD" stroke-width="0.9" fill="#0072BD"/>
<path d="M496.70 139.00L499.55 137.50L499.55 140.50Z" stroke="#0072BD" stroke-width="0.9" fill="#0072BD"/>
<path d="M511.40 148.10L514.25 146.60L514.25 149.60Z" stroke="#0072BD" stroke-width="0.9" fill="#0072BD"/>
<path d="M526.10 159.80L528.95 158.30L528.95 161.30Z" stroke="#0072BD" stroke-width="0.9" fill="#0072BD"/>
<path d="M540.80 172.20L543.65 170.70L543.65 173.70Z" stroke="#0072BD" stroke-width="0.9" fill="#0072BD"/>
<polyline points="395.30,39.40 410.00,48.60 424.70,60.60 439.40,79.30 454.10,104.80 468.80,133.70 483.50,165.60 498.20,194.10 512.90,216.00 527.60,230.30 542.30,244.50" stroke="#D95319" stroke-width="1.45" fill="none" stroke-linejoin="round"/>
<circle cx="395.30" cy="39.40" r="1.75" stroke="#D95319" stroke-width="1.2" fill="none"/>
<circle cx="410.00" cy="48.60" r="1.75" stroke="#D95319" stroke-width="1.2" fill="none"/>
<circle cx="424.70" cy="60.60" r="1.75" stroke="#D95319" stroke-width="1.2" fill="none"/>
<circle cx="439.40" cy="79.30" r="1.75" stroke="#D95319" stroke-width="1.2" fill="none"/>
<circle cx="454.10" cy="104.80" r="1.75" stroke="#D95319" stroke-width="1.2" fill="none"/>
<circle cx="468.80" cy="133.70" r="1.75" stroke="#D95319" stroke-width="1.2" fill="none"/>
<circle cx="483.50" cy="165.60" r="1.75" stroke="#D95319" stroke-width="1.2" fill="none"/>
<circle cx="498.20" cy="194.10" r="1.75" stroke="#D95319" stroke-width="1.2" fill="none"/>
<circle cx="512.90" cy="216.00" r="1.75" stroke="#D95319" stroke-width="1.2" fill="none"/>
<circle cx="527.60" cy="230.30" r="1.75" stroke="#D95319" stroke-width="1.2" fill="none"/>
<circle cx="542.30" cy="244.50" r="1.75" stroke="#D95319" stroke-width="1.2" fill="none"/>
<polyline points="395.30,14.10 410.00,21.40 424.70,32.40 439.40,48.50 454.10,69.70 468.80,94.40 483.50,114.50 498.20,128.50 512.90,146.60 527.60,157.00 542.30,170.90" stroke="#D95319" stroke-width="1.45" fill="none" stroke-linejoin="round" stroke-dasharray="4 3"/>
<circle cx="395.30" cy="14.10" r="1.75" stroke="#D95319" stroke-width="1.2" fill="none"/>
<circle cx="410.00" cy="21.40" r="1.75" stroke="#D95319" stroke-width="1.2" fill="none"/>
<circle cx="424.70" cy="32.40" r="1.75" stroke="#D95319" stroke-width="1.2" fill="none"/>
<circle cx="439.40" cy="48.50" r="1.75" stroke="#D95319" stroke-width="1.2" fill="none"/>
<circle cx="454.10" cy="69.70" r="1.75" stroke="#D95319" stroke-width="1.2" fill="none"/>
<circle cx="468.80" cy="94.40" r="1.75" stroke="#D95319" stroke-width="1.2" fill="none"/>
<circle cx="483.50" cy="114.50" r="1.75" stroke="#D95319" stroke-width="1.2" fill="none"/>
<circle cx="498.20" cy="128.50" r="1.75" stroke="#D95319" stroke-width="1.2" fill="none"/>
<circle cx="512.90" cy="146.60" r="1.75" stroke="#D95319" stroke-width="1.2" fill="none"/>
<circle cx="527.60" cy="157.00" r="1.75" stroke="#D95319" stroke-width="1.2" fill="none"/>
<circle cx="542.30" cy="170.90" r="1.75" stroke="#D95319" stroke-width="1.2" fill="none"/>
<polyline points="395.30,48.50 410.00,58.40 424.70,64.90 439.40,75.60 454.10,86.10 468.80,99.90 483.50,111.20 498.20,125.70 512.90,137.10 527.60,152.30 542.30,166.50" stroke="#77AC30" stroke-width="1.45" fill="none" stroke-linejoin="round"/>
<path d="M395.30 46.05L397.14 48.50L395.30 50.95L393.46 48.50Z" stroke="#77AC30" stroke-width="1" fill="#77AC30"/>
<path d="M410.00 55.95L411.84 58.40L410.00 60.85L408.16 58.40Z" stroke="#77AC30" stroke-width="1" fill="#77AC30"/>
<path d="M424.70 62.45L426.54 64.90L424.70 67.35L422.86 64.90Z" stroke="#77AC30" stroke-width="1" fill="#77AC30"/>
<path d="M439.40 73.15L441.24 75.60L439.40 78.05L437.56 75.60Z" stroke="#77AC30" stroke-width="1" fill="#77AC30"/>
<path d="M454.10 83.65L455.94 86.10L454.10 88.55L452.26 86.10Z" stroke="#77AC30" stroke-width="1" fill="#77AC30"/>
<path d="M468.80 97.45L470.64 99.90L468.80 102.35L466.96 99.90Z" stroke="#77AC30" stroke-width="1" fill="#77AC30"/>
<path d="M483.50 108.75L485.34 111.20L483.50 113.65L481.66 111.20Z" stroke="#77AC30" stroke-width="1" fill="#77AC30"/>
<path d="M498.20 123.25L500.04 125.70L498.20 128.15L496.36 125.70Z" stroke="#77AC30" stroke-width="1" fill="#77AC30"/>
<path d="M512.90 134.65L514.74 137.10L512.90 139.55L511.06 137.10Z" stroke="#77AC30" stroke-width="1" fill="#77AC30"/>
<path d="M527.60 149.85L529.44 152.30L527.60 154.75L525.76 152.30Z" stroke="#77AC30" stroke-width="1" fill="#77AC30"/>
<path d="M542.30 164.05L544.14 166.50L542.30 168.95L540.46 166.50Z" stroke="#77AC30" stroke-width="1" fill="#77AC30"/>
<polyline points="395.30,12.00 410.00,18.30 424.70,19.00 439.40,24.10 454.10,31.90 468.80,41.90 483.50,51.60 498.20,60.60 512.90,68.90 527.60,82.60 542.30,96.60" stroke="#77AC30" stroke-width="1.45" fill="none" stroke-linejoin="round" stroke-dasharray="4 3"/>
<path d="M395.30 9.65L397.06 12.00L395.30 14.35L393.54 12.00Z" stroke="#77AC30" stroke-width="1.2" fill="#b9d699"/>
<path d="M410.00 15.95L411.76 18.30L410.00 20.65L408.24 18.30Z" stroke="#77AC30" stroke-width="1.2" fill="#b9d699"/>
<path d="M424.70 16.65L426.46 19.00L424.70 21.35L422.94 19.00Z" stroke="#77AC30" stroke-width="1.2" fill="#b9d699"/>
<path d="M439.40 21.75L441.16 24.10L439.40 26.45L437.64 24.10Z" stroke="#77AC30" stroke-width="1.2" fill="#b9d699"/>
<path d="M454.10 29.55L455.86 31.90L454.10 34.25L452.34 31.90Z" stroke="#77AC30" stroke-width="1.2" fill="#b9d699"/>
<path d="M468.80 39.55L470.56 41.90L468.80 44.25L467.04 41.90Z" stroke="#77AC30" stroke-width="1.2" fill="#b9d699"/>
<path d="M483.50 49.25L485.26 51.60L483.50 53.95L481.74 51.60Z" stroke="#77AC30" stroke-width="1.2" fill="#b9d699"/>
<path d="M498.20 58.25L499.96 60.60L498.20 62.95L496.44 60.60Z" stroke="#77AC30" stroke-width="1.2" fill="#b9d699"/>
<path d="M512.90 66.55L514.66 68.90L512.90 71.25L511.14 68.90Z" stroke="#77AC30" stroke-width="1.2" fill="#b9d699"/>
<path d="M527.60 80.25L529.36 82.60L527.60 84.95L525.84 82.60Z" stroke="#77AC30" stroke-width="1.2" fill="#b9d699"/>
<path d="M542.30 94.25L544.06 96.60L542.30 98.95L540.54 96.60Z" stroke="#77AC30" stroke-width="1.2" fill="#b9d699"/>
<polyline points="395.30,36.80 410.00,40.60 424.70,43.90 439.40,53.50 454.10,69.70 468.80,84.20 483.50,110.50 498.20,135.50 512.90,158.00 527.60,178.70 542.30,196.90" stroke="#EDB120" stroke-width="1.45" fill="none" stroke-linejoin="round"/>
<path d="M393.40 36.80H397.20M395.30 34.90V38.70" stroke="#EDB120" stroke-width="1.3" fill="none"/>
<path d="M408.10 40.60H411.90M410.00 38.70V42.50" stroke="#EDB120" stroke-width="1.3" fill="none"/>
<path d="M422.80 43.90H426.60M424.70 42.00V45.80" stroke="#EDB120" stroke-width="1.3" fill="none"/>
<path d="M437.50 53.50H441.30M439.40 51.60V55.40" stroke="#EDB120" stroke-width="1.3" fill="none"/>
<path d="M452.20 69.70H456.00M454.10 67.80V71.60" stroke="#EDB120" stroke-width="1.3" fill="none"/>
<path d="M466.90 84.20H470.70M468.80 82.30V86.10" stroke="#EDB120" stroke-width="1.3" fill="none"/>
<path d="M481.60 110.50H485.40M483.50 108.60V112.40" stroke="#EDB120" stroke-width="1.3" fill="none"/>
<path d="M496.30 135.50H500.10M498.20 133.60V137.40" stroke="#EDB120" stroke-width="1.3" fill="none"/>
<path d="M511.00 158.00H514.80M512.90 156.10V159.90" stroke="#EDB120" stroke-width="1.3" fill="none"/>
<path d="M525.70 178.70H529.50M527.60 176.80V180.60" stroke="#EDB120" stroke-width="1.3" fill="none"/>
<path d="M540.40 196.90H544.20M542.30 195.00V198.80" stroke="#EDB120" stroke-width="1.3" fill="none"/>
<polyline points="395.30,9.70 410.00,13.50 424.70,15.60 439.40,22.90 454.10,34.00 468.80,48.10 483.50,63.50 498.20,86.70 512.90,102.80 527.60,118.90 542.30,136.90" stroke="#EDB120" stroke-width="1.45" fill="none" stroke-linejoin="round" stroke-dasharray="4 3"/>
<path d="M393.40 9.70H397.20M395.30 7.80V11.60" stroke="#EDB120" stroke-width="1.3" fill="none"/>
<path d="M408.10 13.50H411.90M410.00 11.60V15.40" stroke="#EDB120" stroke-width="1.3" fill="none"/>
<path d="M422.80 15.60H426.60M424.70 13.70V17.50" stroke="#EDB120" stroke-width="1.3" fill="none"/>
<path d="M437.50 22.90H441.30M439.40 21.00V24.80" stroke="#EDB120" stroke-width="1.3" fill="none"/>
<path d="M452.20 34.00H456.00M454.10 32.10V35.90" stroke="#EDB120" stroke-width="1.3" fill="none"/>
<path d="M466.90 48.10H470.70M468.80 46.20V50.00" stroke="#EDB120" stroke-width="1.3" fill="none"/>
<path d="M481.60 63.50H485.40M483.50 61.60V65.40" stroke="#EDB120" stroke-width="1.3" fill="none"/>
<path d="M496.30 86.70H500.10M498.20 84.80V88.60" stroke="#EDB120" stroke-width="1.3" fill="none"/>
<path d="M511.00 102.80H514.80M512.90 100.90V104.70" stroke="#EDB120" stroke-width="1.3" fill="none"/>
<path d="M525.70 118.90H529.50M527.60 117.00V120.80" stroke="#EDB120" stroke-width="1.3" fill="none"/>
<path d="M540.40 136.90H544.20M542.30 135.00V138.80" stroke="#EDB120" stroke-width="1.3" fill="none"/>
</g>
<text x="395.30" y="265.8" text-anchor="middle" class="tk">2</text>
<text x="419.80" y="265.8" text-anchor="middle" class="tk">2.5</text>
<text x="444.30" y="265.8" text-anchor="middle" class="tk">3</text>
<text x="468.80" y="265.8" text-anchor="middle" class="tk">3.5</text>
<text x="493.30" y="265.8" text-anchor="middle" class="tk">4</text>
<text x="517.80" y="265.8" text-anchor="middle" class="tk">4.5</text>
<text x="542.30" y="265.8" text-anchor="middle" class="tk">5</text>
<text x="392.70" y="259.80" text-anchor="end" class="tky">10<tspan dx="0.8" dy="-3.2" class="sup">-6</tspan></text>
<text x="392.70" y="218.48" text-anchor="end" class="tky">10<tspan dx="0.8" dy="-3.2" class="sup">-5</tspan></text>
<text x="392.70" y="177.17" text-anchor="end" class="tky">10<tspan dx="0.8" dy="-3.2" class="sup">-4</tspan></text>
<text x="392.70" y="135.85" text-anchor="end" class="tky">10<tspan dx="0.8" dy="-3.2" class="sup">-3</tspan></text>
<text x="392.70" y="94.53" text-anchor="end" class="tky">10<tspan dx="0.8" dy="-3.2" class="sup">-2</tspan></text>
<text x="392.70" y="53.22" text-anchor="end" class="tky">10<tspan dx="0.8" dy="-3.2" class="sup">-1</tspan></text>
<text x="392.70" y="11.90" text-anchor="end" class="tky">10<tspan dx="0.8" dy="-3.2" class="sup">0</tspan></text>
<text transform="translate(376.90 131.9) rotate(-90)" text-anchor="middle" class="lb">BER</text>
<text x="468.80" y="275.2" text-anchor="middle" class="lb">Eb/N0(dB)</text>
<text x="457.60" y="284.3" text-anchor="middle" class="cap">(c)</text>
<rect x="399.3" y="179.5" width="105.2" height="71.8" fill="#fff" stroke="#979797" stroke-width="0.9"/>
<path d="M401.20 184.60H417.90" stroke="#0072BD" stroke-width="1.45"/>
<path d="M407.65 184.60H411.45M409.55 182.70V186.50" stroke="#0072BD" stroke-width="1.2" fill="none"/>
<text x="419.00" y="187.00" class="lg">BER,the proposed algorithm</text>
<path d="M401.20 193.40h3.7M407.40 193.40H413.00M416.60 193.40H417.90" stroke="#0072BD" stroke-width="1.45"/>
<path d="M408.05 193.40L410.90 191.90L410.90 194.90Z" stroke="#0072BD" stroke-width="0.9" fill="#0072BD"/>
<text x="419.00" y="195.80" class="lg">FER,the proposed algorithm</text>
<path d="M401.20 202.20H417.90" stroke="#D95319" stroke-width="1.45"/>
<circle cx="409.55" cy="202.20" r="1.75" stroke="#D95319" stroke-width="1.2" fill="none"/>
<text x="419.00" y="204.60" class="lg">BER,the algorithm in [20]</text>
<path d="M401.20 211.00h3.7M407.40 211.00H413.00M416.60 211.00H417.90" stroke="#D95319" stroke-width="1.45"/>
<circle cx="409.55" cy="211.00" r="1.75" stroke="#D95319" stroke-width="1.2" fill="none"/>
<text x="419.00" y="213.40" class="lg">FER,the algorithm in [20]</text>
<path d="M401.20 219.80H417.90" stroke="#77AC30" stroke-width="1.45"/>
<path d="M409.55 217.35L411.39 219.80L409.55 222.25L407.71 219.80Z" stroke="#77AC30" stroke-width="1" fill="#77AC30"/>
<text x="419.00" y="222.20" class="lg">BER,the algorithm in [31]</text>
<path d="M401.20 228.60h3.7M407.40 228.60H413.00M416.60 228.60H417.90" stroke="#77AC30" stroke-width="1.45"/>
<path d="M409.55 226.15L411.39 228.60L409.55 231.05L407.71 228.60Z" stroke="#77AC30" stroke-width="1" fill="#77AC30"/>
<text x="419.00" y="231.00" class="lg">FER,the algorithm in [31]</text>
<path d="M401.20 237.40H417.90" stroke="#EDB120" stroke-width="1.45"/>
<rect x="408.10" y="236.10" width="2.9" height="2.6" fill="#EDB120"/>
<text x="419.00" y="239.80" class="lg">BER,repeated turbo codes</text>
<path d="M401.20 246.20h3.7M407.40 246.20H413.00M416.60 246.20H417.90" stroke="#EDB120" stroke-width="1.45"/>
<rect x="408.10" y="244.90" width="2.9" height="2.6" fill="#EDB120"/>
<text x="419.00" y="248.60" class="lg">FER,repeated turbo codes</text>
</svg>
</body></html>
